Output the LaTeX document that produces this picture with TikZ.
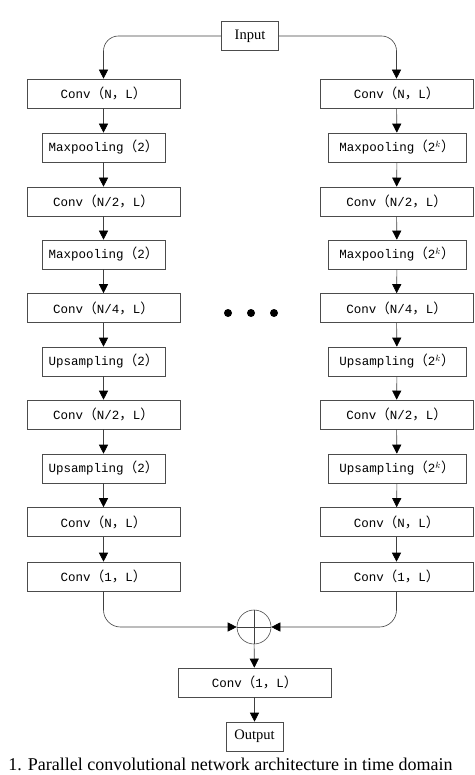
\documentclass[tikz,border=0pt]{standalone}
\usepackage{fontspec}
\setmainfont{Liberation Serif}
\setmonofont{Liberation Mono}
\newfontfamily\cjk{Noto Sans CJK SC}
\usetikzlibrary{arrows.meta}
\newcommand{\LP}{{\cjk\fontsize{13.5}{13.5}\selectfont （}}
\newcommand{\RP}{{\cjk\fontsize{13.5}{13.5}\selectfont ）}}
\newcommand{\CM}{{\cjk\fontsize{13.5}{13.5}\selectfont ，}}

\begin{document}
\begin{tikzpicture}[x=1pt, y=-1pt, line width=0.6pt, draw=black!75, >={Triangle[width=9pt,length=9pt,color=black]}]
	\tikzstyle{box}=[draw=black!70, fill=white, minimum width=153pt, minimum height=29pt, inner sep=0pt, font=\ttfamily\fontsize{12.5}{12.5}\selectfont]
	\tikzstyle{small}=[box, minimum width=123pt]
	\tikzstyle{rsmall}=[box, minimum width=138pt]
	\tikzstyle{term}=[box, minimum width=57pt, font=\fontsize{14.5}{14.5}\selectfont]
	\tikzstyle{dot}=[circle, fill=black, minimum size=8pt, inner sep=0pt]
	
	\useasboundingbox (0,0) rectangle (474,775);
	
	% Input
	\node[term] (input) at (250,36) {Input};
	
	% Left branch
	\node[box] (l1) at (103.5,93.5) {Conv\LP N\CM L\RP};
	\node[small] (l2) at (103.5,147.5) {Maxpooling\LP 2\RP};
	\node[box] (l3) at (103.5,201.5) {Conv\LP N/2\CM L\RP};
	\node[small] (l4) at (103.5,254.5) {Maxpooling\LP 2\RP};
	\node[box] (l5) at (103.5,308) {Conv\LP N/4\CM L\RP};
	\node[small] (l6) at (103.5,361.5) {Upsampling\LP 2\RP};
	\node[box] (l7) at (103.5,414.5) {Conv\LP N/2\CM L\RP};
	\node[small] (l8) at (103.5,468.5) {Upsampling\LP 2\RP};
	\node[box] (l9) at (103.5,522) {Conv\LP N\CM L\RP};
	\node[box] (l10) at (103.5,576.5) {Conv\LP 1\CM L\RP};
	
	% Right branch
	\node[box] (r1) at (396.5,93.5) {Conv\LP N\CM L\RP};
	\node[rsmall] (r2) at (397,147.5) {Maxpooling\LP 2$^{k}$\RP};
	\node[box] (r3) at (396.5,201.5) {Conv\LP N/2\CM L\RP};
	\node[rsmall] (r4) at (397,254.5) {Maxpooling\LP 2$^{k}$\RP};
	\node[box] (r5) at (396.5,308) {Conv\LP N/4\CM L\RP};
	\node[rsmall] (r6) at (397,361.5) {Upsampling\LP 2$^{k}$\RP};
	\node[box] (r7) at (396.5,414.5) {Conv\LP N/2\CM L\RP};
	\node[rsmall] (r8) at (397,468.5) {Upsampling\LP 2$^{k}$\RP};
	\node[box] (r9) at (396.5,522) {Conv\LP N\CM L\RP};
	\node[box] (r10) at (396.5,576.5) {Conv\LP 1\CM L\RP};
	
	% Dots between branches
	\node[dot] (d1) at (228,313) {};
	\node[dot] (d2) at (251,313) {};
	\node[dot] (d3) at (274,313) {};
	
	% Merge and output
	\node[circle, draw=black!70, minimum size=34pt, inner sep=0pt] (sum) at (254,627) {};
	\node[box] (final) at (254.5,682.5) {Conv\LP 1\CM L\RP};
	\node[term] (output) at (254.5,736.5) {Output};
	
	% Caption
	\node[anchor=base west, inner sep=0pt, font=\fontsize{18}{18}\selectfont] (caption) at (8,770) {1. Parallel convolutional network architecture in time domain};
	
	% Draw arrows
	\draw[->, rounded corners=15pt] (input.west) -| (l1.north);
	\draw[->, rounded corners=15pt] (input.east) -| (r1.north);
	\path[->] (l1) edge (l2);
	\path[->] (l2) edge (l3);
	\path[->] (l3) edge (l4);
	\path[->] (l4) edge (l5);
	\path[->] (l5) edge (l6);
	\path[->] (l6) edge (l7);
	\path[->] (l7) edge (l8);
	\path[->] (l8) edge (l9);
	\path[->] (l9) edge (l10);
	\path[->] (r1) edge (r2);
	\path[->] (r2) edge (r3);
	\path[->] (r3) edge (r4);
	\path[->] (r4) edge (r5);
	\path[->] (r5) edge (r6);
	\path[->] (r6) edge (r7);
	\path[->] (r7) edge (r8);
	\path[->] (r8) edge (r9);
	\path[->] (r9) edge (r10);
	\draw[->, rounded corners=17pt] (l10.south) |- (sum.west);
	\draw[->, rounded corners=17pt] (r10.south) |- (sum.east);
	\draw (sum.north) -- (sum.south);
	\draw (sum.west) -- (sum.east);
	\path[->] (sum) edge (final);
	\path[->] (final) edge (output);
	
\end{tikzpicture}
\end{document}
